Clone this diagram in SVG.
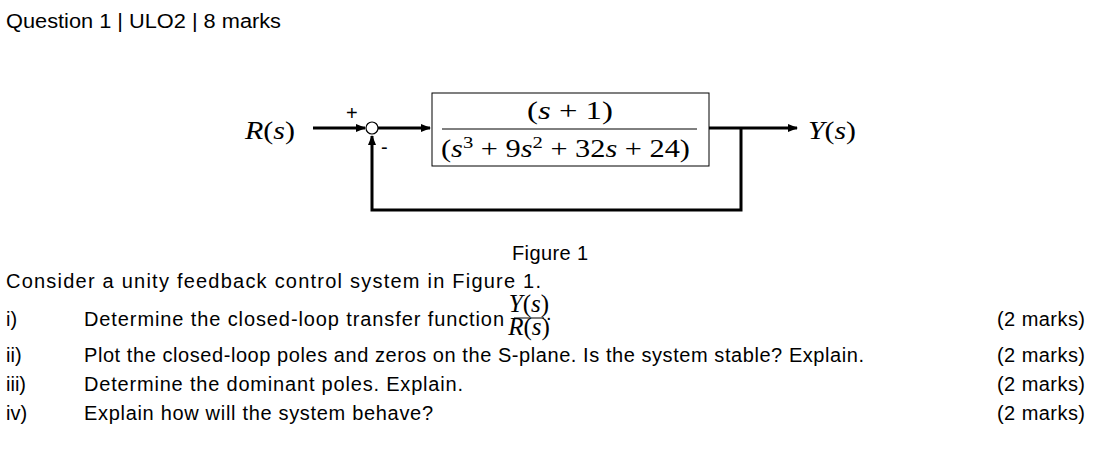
<svg xmlns="http://www.w3.org/2000/svg" width="1093" height="453" viewBox="0 0 1093 453">
<style>
.t{font-family:"Liberation Sans",Arial,sans-serif;font-size:20px;fill:#000}
.m{font-family:"Liberation Serif","Times New Roman",serif;font-size:25px;fill:#000}
.ln{stroke:#000;stroke-width:3;fill:none}
</style>
<defs><marker id="a" markerWidth="10" markerHeight="8" refX="9" refY="4" orient="auto" markerUnits="userSpaceOnUse"><path d="M0,0 L10,4 L0,8 Z" fill="#000"/></marker></defs>
<rect width="1093" height="453" fill="#fff"/>
<text class="t" x="6" y="28" textLength="275" lengthAdjust="spacingAndGlyphs">Question 1 | ULO2 | 8 marks</text>
<g id="R"><text class="m" x="245" y="139" textLength="50" lengthAdjust="spacingAndGlyphs"><tspan font-style="italic">R</tspan>(<tspan font-style="italic">s</tspan>)</text></g>
<g id="sum"><circle cx="372" cy="128" r="6" fill="#fff" stroke="#000" stroke-width="1.2"/>
<text class="t" x="346" y="120" font-size="16">+</text><text class="t" x="381" y="154" font-size="16">-</text></g>
<g id="G"><rect x="432" y="93" width="277" height="73" fill="#fff" stroke="#000" stroke-width="1"/>
<text class="m" x="527" y="119" textLength="86" lengthAdjust="spacingAndGlyphs">(<tspan font-style="italic">s</tspan> + 1)</text>
<line x1="442" y1="129" x2="697" y2="129" stroke="#000" stroke-width="1"/>
<text class="m" x="441" y="157" textLength="249" lengthAdjust="spacingAndGlyphs">(<tspan font-style="italic">s</tspan><tspan font-size="17" dy="-9">3</tspan><tspan dy="9"> + 9</tspan><tspan font-style="italic">s</tspan><tspan font-size="17" dy="-9">2</tspan><tspan dy="9"> + 32</tspan><tspan font-style="italic">s</tspan> + 24)</text></g>
<g id="Y"><text class="m" x="808" y="139" textLength="48" lengthAdjust="spacingAndGlyphs"><tspan font-style="italic">Y</tspan>(<tspan font-style="italic">s</tspan>)</text></g>
<g id="connectors">
<line class="ln" x1="313" y1="128" x2="365" y2="128" marker-end="url(#a)"/>
<line class="ln" x1="378" y1="128" x2="430" y2="128" marker-end="url(#a)"/>
<line class="ln" x1="709" y1="128" x2="797" y2="128" marker-end="url(#a)"/>
<polyline class="ln" points="741,128 741,210 372,210 372,136" marker-end="url(#a)"/>
</g>
<text class="t" x="512" y="260" textLength="76">Figure 1</text>
<text class="t" x="6" y="288" textLength="535">Consider a unity feedback control system in Figure 1.</text>
<text class="t" x="6" y="326">i)</text>
<text class="t" x="84" y="326" textLength="420">Determine the closed-loop transfer function</text>
<text class="m" font-size="14" x="529" y="312" text-anchor="middle"><tspan font-style="italic">Y</tspan>(<tspan font-style="italic">s</tspan>)</text>
<line x1="514" y1="318" x2="544" y2="318" stroke="#000" stroke-width="1"/>
<text class="m" font-size="14" x="529" y="335" text-anchor="middle"><tspan font-style="italic">R</tspan>(<tspan font-style="italic">s</tspan>)</text>
<text class="t" x="546" y="320">.</text>
<text class="t" x="997" y="326" textLength="88">(2 marks)</text>
<text class="t" x="6" y="362">ii)</text>
<text class="t" x="84" y="362" textLength="780">Plot the closed-loop poles and zeros on the S-plane. Is the system stable? Explain.</text>
<text class="t" x="997" y="362" textLength="88">(2 marks)</text>
<text class="t" x="6" y="391">iii)</text>
<text class="t" x="84" y="391" textLength="379">Determine the dominant poles. Explain.</text>
<text class="t" x="997" y="391" textLength="88">(2 marks)</text>
<text class="t" x="6" y="420">iv)</text>
<text class="t" x="84" y="420" textLength="349">Explain how will the system behave?</text>
<text class="t" x="997" y="420" textLength="88">(2 marks)</text>
</svg>
